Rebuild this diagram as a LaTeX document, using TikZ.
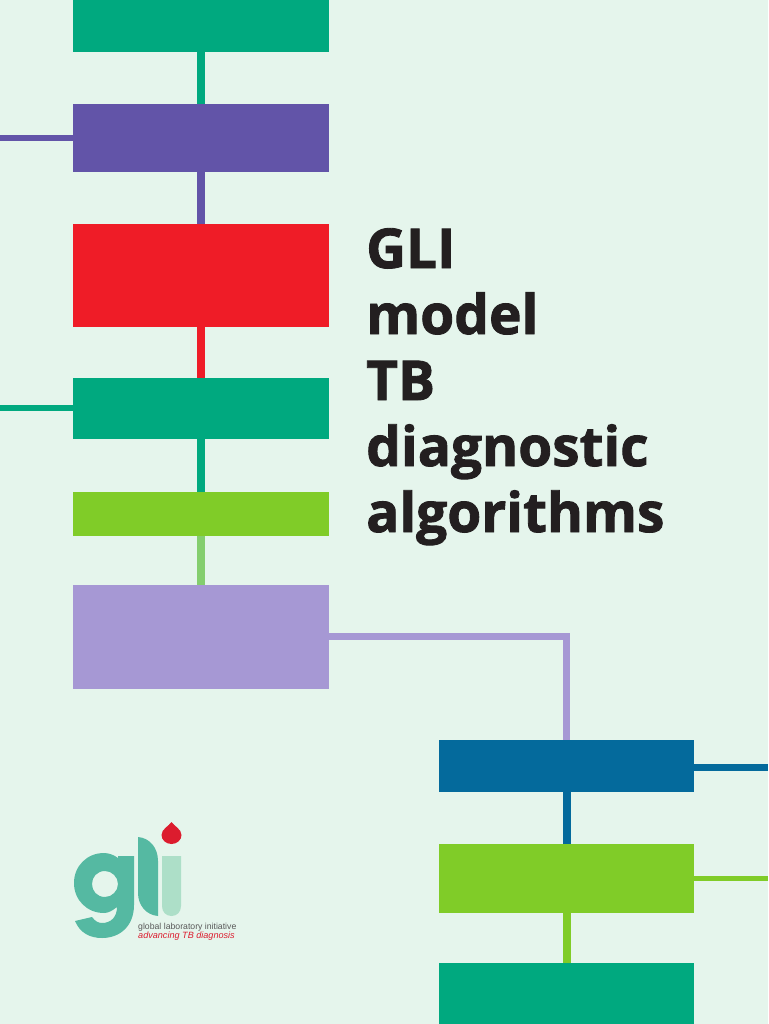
\documentclass[tikz,border=0pt]{standalone}
\usepackage{fontspec}
\setmainfont{Open Sans}[BoldFeatures={FakeBold=1.6}]
\setsansfont{Liberation Sans}
\usepackage{tikz}
\definecolor{pagebg}{HTML}{E5F5EC}
\definecolor{glgreen}{HTML}{00A97F}
\definecolor{glpurple}{HTML}{6254A8}
\definecolor{glred}{HTML}{EF1C27}
\definecolor{gllime}{HTML}{80CC28}
\definecolor{glpale}{HTML}{84CE6E}
\definecolor{gllilac}{HTML}{A698D4}
\definecolor{glblue}{HTML}{046A9C}
\definecolor{logodark}{HTML}{55B9A2}
\definecolor{logolight}{HTML}{ADDFC8}
\definecolor{logored}{HTML}{DC1C2E}
\definecolor{inkblack}{HTML}{231F20}
\tikzset{
    panel/.style={rectangle,draw=none,inner sep=0pt,outer sep=0pt,minimum width=256pt},
    sidepanel/.style={panel,minimum width=255pt},
    link/.style={line width=8pt},
    title/.style={align=left,inner sep=0pt,anchor=north west,text=inkblack,font=\fontsize{55}{66}\selectfont\bfseries},
    tagline/.style={inner sep=0pt,anchor=base west,font=\sffamily\fontsize{8.7}{9}\selectfont},
}
\begin{document}
\begin{tikzpicture}[x=1pt,y=-1pt]
	\useasboundingbox (0,0) rectangle (768,1024);
	\fill[pagebg] (0,0) rectangle (768,1024);

	\node[panel,fill=glgreen,minimum height=52pt] (a) at (201,26) {};
	\node[panel,fill=glpurple,minimum height=68pt] (b) at (201,138) {};
	\node[panel,fill=glred,minimum height=103pt] (c) at (201,275.5) {};
	\node[panel,fill=glgreen,minimum height=61pt] (d) at (201,408.5) {};
	\node[panel,fill=gllime,minimum height=44pt] (e) at (201,514) {};
	\node[panel,fill=gllilac,minimum height=104pt] (f) at (201,637) {};
	\node[sidepanel,fill=glblue,minimum height=52pt] (g) at (566.5,766) {};
	\node[sidepanel,fill=gllime,minimum height=69pt] (h) at (566.5,878.5) {};
	\node[sidepanel,fill=glgreen,minimum height=61pt] (i) at (566.5,993.5) {};

	\coordinate (bin) at (0,138);
	\coordinate (din) at (0,408);
	\coordinate (gout) at (768,767);
	\coordinate (hout) at (768,878);
	\coordinate (fout) at (329,636);

	\draw[link,glgreen] (a) -- (b);
	\draw[link,glpurple] (b) -- (c);
	\draw[link,glred] (c) -- (d);
	\draw[link,glgreen] (d) -- (e);
	\draw[link,glpale] (e) -- (f);
	\draw[link,gllilac,line width=7pt] (fout) -| (g.north);
	\draw[link,glblue] (g) -- (h);
	\draw[link,gllime] (h) -- (i);
	\draw[glpurple,line width=6pt] (bin) -- (b.west);
	\draw[glgreen,line width=6pt] (din) -- (din -| d.west);
	\draw[glblue,line width=7pt] (gout -| g.east) -- (gout);
	\draw[gllime,line width=5pt] (hout -| h.east) -- (hout);

	\node[title] (heading) at (366,228) {GLI\\model\\TB\\diagnostic\\algorithms};

	% logo
	\fill[logodark,even odd rule] (134,856) -- (134,905)
		.. controls (134,926) and (120,938) .. (102,938)
		.. controls (90,938) and (80,933) .. (75,921)
		-- (92,917) .. controls (95,921) and (98,923) .. (102,923)
		.. controls (111,923) and (117,917) .. (117,907)
		.. controls (112,911) and (108,913) .. (104,913)
		.. controls (87,913) and (74,900) .. (74,883)
		.. controls (74,866) and (87,853) .. (104,853)
		.. controls (109,853) and (114,855) .. (118,858)
		-- (118,856) -- cycle
		(105,871) .. controls (97,871) and (92,877) .. (92,884)
		.. controls (92,891) and (97,897) .. (105,897)
		.. controls (112,897) and (118,891) .. (118,884)
		.. controls (118,877) and (112,871) .. (105,871) -- cycle;
	\fill[logodark] (138,837) .. controls (150,838) and (158,848) .. (158,861)
		-- (158,916) .. controls (146,915) and (138,905) .. (138,893) -- cycle;
	\fill[logolight] (162,856) -- (181,856) -- (181,906)
		.. controls (181,912) and (177,916) .. (171.5,916)
		.. controls (166,916) and (162,912) .. (162,906) -- cycle;
	\fill[logored] (171.5,822) .. controls (174,826) and (181.5,829) .. (181.5,835)
		.. controls (181.5,840) and (177,844) .. (171.5,844)
		.. controls (166,844) and (161.5,840) .. (161.5,835)
		.. controls (161.5,829) and (169,826) .. (171.5,822) -- cycle;
	\node[tagline,text=black!65] (tagtop) at (138,929.5) {global laboratory initiative};
	\node[tagline,text=logored,font=\sffamily\itshape\fontsize{9.1}{9}\selectfont] (tagbottom) at (138,938.5) {advancing TB diagnosis};
\end{tikzpicture}
\end{document}
